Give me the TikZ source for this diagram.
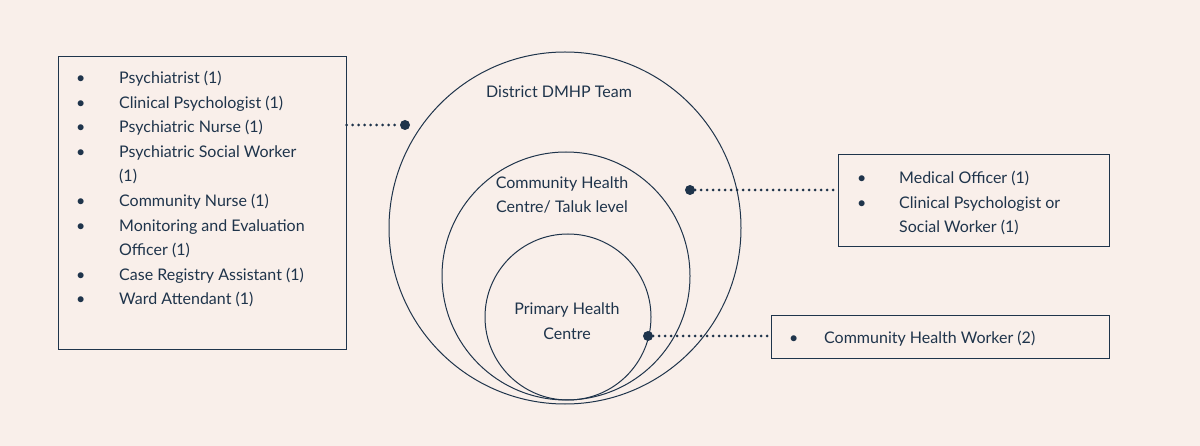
\documentclass[tikz,border=0pt]{standalone}
\usepackage{fontspec}
\setmainfont{Lato}
\definecolor{bg}{HTML}{F9EFEA}
\definecolor{ink}{HTML}{1F344B}
\begin{document}
\begin{tikzpicture}[x=1pt,y=-1pt,
  txt/.style={text=ink,font=\fontsize{16}{24.6}\selectfont,inner sep=0pt},
  ring/.style={draw=ink,line width=1pt,circle,inner sep=0pt},
  box/.style={draw=ink,line width=1pt,fill=none},
  dots/.style={draw=ink,line width=3pt,line cap=round,dash pattern=on 0pt off 6pt},
  bigdot/.style={fill=ink,circle,inner sep=0pt,minimum size=10pt}]
\fill[bg] (0,0) rectangle (1200,446);
\useasboundingbox (0,0) rectangle (1200,446);
\node[ring,minimum size=352pt] (outer) at (565,228) {};
\node[ring,minimum size=248pt] (mid) at (566,276) {};
\node[ring,minimum size=166pt] (inner) at (568,317) {};
\node[txt] (t1) at (559,92) {District DMHP Team};
\node[txt,align=center] (t2) at (562,195) {Community Health\\Centre/ Taluk level};
\node[txt,align=center] (t3) at (567,321) {Primary Health\\Centre};
\node[box,minimum width=288pt,minimum height=293pt] (lbox) at (202,203.5) {};
\node[box,minimum width=271pt,minimum height=92pt] (rbox) at (973.5,201) {};
\node[box,minimum width=338pt,minimum height=43pt] (bbox) at (940,337.5) {};
\node[txt,anchor=north west] (l) at (76,66) {\begin{tabular}{@{}p{31pt}l@{}}
•&Psychiatrist (1)\\
•&Clinical Psychologist (1)\\
•&Psychiatric Nurse (1)\\
•&Psychiatric Social Worker\\
&(1)\\
•&Community Nurse (1)\\
•&Monitoring and Evaluation\\
&Officer (1)\\
•&Case Registry Assistant (1)\\
•&Ward Attendant (1)
\end{tabular}};
\node[txt,anchor=north west] (r) at (857,166) {\begin{tabular}{@{}p{30pt}l@{}}
•&Medical Officer (1)\\
•&Clinical Psychologist or\\
&Social Worker (1)
\end{tabular}};
\node[txt,anchor=west] (b) at (789,339) {\makebox[35pt][l]{•}Community Health Worker (2)};
\node[bigdot] (d1) at (405,125) {};
\node[bigdot] (d2) at (690,190) {};
\node[bigdot] (d3) at (648,336) {};
\draw[dots] (lbox.east |- d1) -- (d1);
\draw[dots] (d2) -- (rbox.west |- d2);
\draw[dots] (d3) -- (bbox.west |- d3);
\end{tikzpicture}
\end{document}
